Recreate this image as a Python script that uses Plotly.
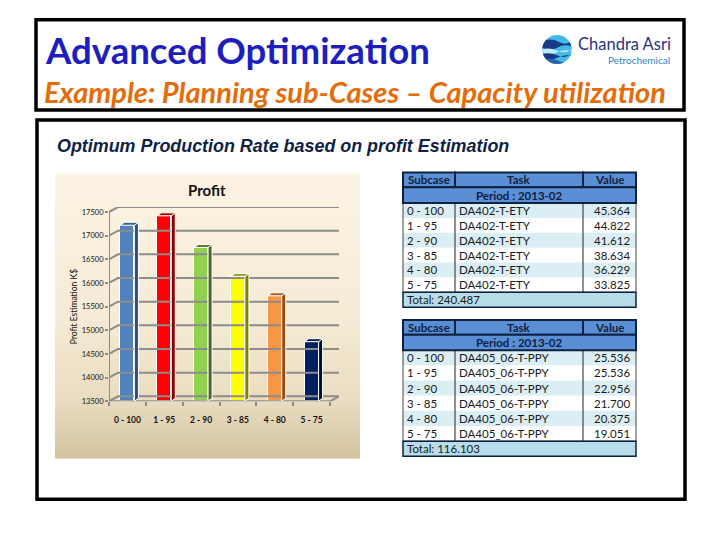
import base64
import plotly.graph_objects as go

W, H = 720, 540


def fx(p):
    return p / W


def fy(p):
    return 1 - p / H


# ---------------- data ----------------
categories = ["0 - 100", "1 - 95", "2 - 90", "3 - 85", "4 - 80", "5 - 75"]
profit = [17220, 17420, 16750, 16140, 15730, 14760]
y_ticks = [13500, 14000, 14500, 15000, 15500, 16000, 16500, 17000, 17500]

table_headers = ["Subcase", "Task", "Value"]
period_label = "Period : 2013-02"
subcases = ["0 - 100", "1 - 95", "2 - 90", "3 - 85", "4 - 80", "5 - 75"]
tasks_a = ["DA402-T-ETY"] * 6
values_a = [45.364, 44.822, 41.612, 38.634, 36.229, 33.825]
total_a = 240.487
tasks_b = ["DA405_06-T-PPY"] * 6
values_b = [25.536, 25.536, 22.956, 21.700, 20.375, 19.051]
total_b = 116.103

# ---------------- styles ----------------
front_colors = ["#4F81BD", "#FF0000", "#92D050", "#FFFF00", "#F79646", "#002060"]
side_colors = ["#2C4D75", "#8B0000", "#4F6228", "#7F7F00", "#984807", "#00102E"]
top_colors = ["#3A5F8E", "#A50000", "#5E7A2E", "#99992A", "#A65A1E", "#0A1E4A"]
GRID = "#8C8C8C"

# 3D geometry (pixel based, converted to data units)
CAT_PX = 221 / 6.0
PX_PER_UNIT = 191 / 4000.0
DX = 9 / CAT_PX
DY = 5 / PX_PER_UNIT
BW = 0.38
BDX = 4 / CAT_PX
BDY = 3 / PX_PER_UNIT
Y0 = y_ticks[0]
Y1 = y_ticks[-1]

fig = go.Figure()

# background panel with vertical gradient
fig.add_trace(go.Scatter(
    x=[0, 1, 1, 0, 0], y=[0, 0, 1, 1, 0], mode="lines", fill="toself",
    line=dict(width=0, color="rgba(0,0,0,0)"),
    fillgradient=dict(type="vertical", colorscale=[
        [0, "#D3C29E"], [0.2, "#E9DCC0"], [0.5, "#F6EBD5"], [1, "#FCF3E3"]]),
    hoverinfo="skip", xaxis="x", yaxis="y"))

# back wall gridlines (3D)
for t in y_ticks:
    fig.add_trace(go.Scatter(
        x=[-0.5, -0.5 + DX, len(categories) - 0.5 + DX], y=[t, t + DY, t + DY],
        mode="lines", line=dict(color=GRID, width=2), hoverinfo="skip",
        xaxis="x2", yaxis="y2"))
# front vertical axis and floor edges
fig.add_trace(go.Scatter(x=[-0.5, -0.5], y=[Y0, Y1], mode="lines",
                         line=dict(color=GRID, width=2), hoverinfo="skip",
                         xaxis="x2", yaxis="y2"))
fig.add_trace(go.Scatter(
    x=[-0.5, len(categories) - 0.5, len(categories) - 0.5 + DX],
    y=[Y0, Y0, Y0 + DY], mode="lines",
    line=dict(color=GRID, width=2), hoverinfo="skip", xaxis="x2", yaxis="y2"))

# bar side & top faces
for i, v in enumerate(profit):
    xr = i + BW / 2
    xl = i - BW / 2
    fig.add_trace(go.Scatter(
        x=[xr, xr + BDX, xr + BDX, xr, xr], y=[Y0, Y0 + BDY, v + BDY, v, Y0],
        mode="lines", fill="toself", fillcolor=side_colors[i],
        line=dict(color="white", width=1), hoverinfo="skip",
        xaxis="x2", yaxis="y2"))
    fig.add_trace(go.Scatter(
        x=[xl, xl + BDX, xr + BDX, xr, xl], y=[v, v + BDY, v + BDY, v, v],
        mode="lines", fill="toself", fillcolor=top_colors[i],
        line=dict(color="white", width=1), hoverinfo="skip",
        xaxis="x2", yaxis="y2"))

# front faces
fig.add_trace(go.Bar(
    x=list(range(len(categories))), y=[v - Y0 for v in profit], base=Y0,
    width=BW, marker=dict(color=front_colors, line=dict(color="white", width=1)),
    hoverinfo="skip", xaxis="x2", yaxis="y2"))

shapes = []
annotations = []


def rect(x0, y0, x1, y1, fill=None, line=None, lw=0):
    shapes.append(dict(
        type="rect", xref="paper", yref="paper",
        x0=fx(x0), x1=fx(x1), y0=fy(y1), y1=fy(y0),
        fillcolor=fill if fill else "rgba(0,0,0,0)",
        line=dict(color=line if line else "rgba(0,0,0,0)", width=lw),
        layer="above"))


def vline(x, y0, y1, color, lw):
    shapes.append(dict(type="line", xref="paper", yref="paper",
                       x0=fx(x), x1=fx(x), y0=fy(y0), y1=fy(y1),
                       line=dict(color=color, width=lw), layer="above"))


def text(s, x, y, size, color="black", family="Lato", weight="normal",
         style="normal", xanchor="left", angle=0):
    annotations.append(dict(
        text=s, x=fx(x), y=fy(y), xref="paper", yref="paper",
        xanchor=xanchor, yanchor="middle", showarrow=False, textangle=angle,
        font=dict(size=size, color=color, family=family, weight=weight,
                  style=style)))


# slide frames
rect(36, 20, 684, 111, line="black", lw=3.5)
rect(37, 121, 685, 504, line="black", lw=3.5)

# titles
text("Advanced Optimization", 43, 50, 36.6, color="#1E1EBE", weight="bold")
text("Example: Planning sub-Cases \u2013 Capacity utilization", 42, 92, 29,
     color="#E46C0A", weight="bold", style="italic")
text("Optimum Production Rate based on profit Estimation", 55, 147, 17.9,
     color="#0F1F45", family="Liberation Sans", weight="bold", style="italic")

# logo
logo_svg = (
    "<svg xmlns='http://www.w3.org/2000/svg' viewBox='0 0 100 100'>"
    "<defs><clipPath id='c'><circle cx='50' cy='50' r='49'/></clipPath></defs>"
    "<g clip-path='url(#c)'>"
    "<rect width='100' height='100' fill='#45B8E4'/>"
    "<path d='M0 22 Q30 10 55 24 T100 20 V40 Q75 30 50 44 T0 44 Z' fill='#1A3A86'/>"
    "<path d='M0 50 Q25 42 50 54 T100 50 V56 Q75 48 50 60 T0 58 Z' fill='#BFEAF7'/>"
    "<path d='M0 66 Q25 58 52 70 T100 64 V72 Q75 64 50 78 T0 74 Z' fill='#1A3A86'/>"
    "<path d='M0 84 Q30 76 55 88 T100 84 V100 H0 Z' fill='#2B62A8'/>"
    "</g></svg>")
fig.add_layout_image(dict(
    source="data:image/svg+xml;base64," + base64.b64encode(logo_svg.encode()).decode(),
    xref="paper", yref="paper", x=fx(542), y=fy(35), sizex=30 / W, sizey=30 / H,
    xanchor="left", yanchor="top", sizing="stretch", layer="above"))
text("Chandra Asri", 576, 44, 16.5, color="#27357F")
text("Petrochemical", 606, 61, 10, color="#2C86C2")

# chart texts
text("Profit", 207, 192, 15, color="#111111", weight="bold", xanchor="center")
text("Profit Estimation K$", 74, 310, 8.5, color="#111111", xanchor="center",
     angle=-90)

# tables
HDR = "#5A8FD6"
NAVY = "#0F2040"
LIGHT = "#DAEEF3"
TOT = "#B7DDE8"
COLS = [403, 455, 583, 636]


def draw_table(top, hdr_h, per_h, row_h, tasks, values, total):
    y1 = top + hdr_h
    y2 = y1 + per_h
    for r in range(len(subcases)):
        ry = y2 + r * row_h
        rect(COLS[0], ry, COLS[3], ry + row_h,
             fill=LIGHT if r % 2 == 0 else "white")
        text(subcases[r], COLS[0] + 2, ry + row_h / 2, 11.5, color="#1a1a1a")
        text(tasks[r], COLS[1] + 2, ry + row_h / 2, 11.5, color="#1a1a1a")
        text(f"{values[r]:.3f}", COLS[3] - 4, ry + row_h / 2, 11.5,
             color="#1a1a1a", xanchor="right")
    yb = y2 + len(subcases) * row_h
    vline(COLS[1], y2, yb, "#222222", 1)
    vline(COLS[2], y2, yb, "#222222", 1)
    rect(COLS[0], y2, COLS[3], yb, line="#444444", lw=1)
    for i, name in enumerate(table_headers):
        rect(COLS[i], top, COLS[i + 1], y1, fill=HDR, line=NAVY, lw=2)
        text(name, (COLS[i] + COLS[i + 1]) / 2, (top + y1) / 2, 11.5,
             color=NAVY, weight="bold", xanchor="center")
    rect(COLS[0], y1, COLS[3], y2, fill=HDR, line=NAVY, lw=2)
    text(period_label, (COLS[0] + COLS[3]) / 2, (y1 + y2) / 2, 11.5,
         color=NAVY, weight="bold", xanchor="center")
    rect(COLS[0], yb, COLS[3], yb + row_h, fill=TOT, line=NAVY, lw=1.5)
    text(f"Total: {total:.3f}", COLS[0] + 2, yb + row_h / 2, 11.5,
         color="#1a1a1a")


draw_table(174, 15, 16, 15, tasks_a, values_a, total_a)
draw_table(323, 15, 15.5, 15.3, tasks_b, values_b, total_b)

fig.update_layout(
    width=W, height=H, autosize=False,
    margin=dict(l=0, r=0, t=0, b=0),
    paper_bgcolor="white", plot_bgcolor="rgba(0,0,0,0)",
    showlegend=False, bargap=0,
    shapes=shapes, annotations=annotations,
    xaxis=dict(domain=[fx(55), fx(360)], range=[0, 1], visible=False,
               fixedrange=True),
    yaxis=dict(domain=[fy(463), fy(175)], range=[0, 1], visible=False,
               fixedrange=True),
    xaxis2=dict(anchor="y2", domain=[fx(109), fx(109 + 221 + 9)],
                range=[-0.5, len(categories) - 0.5 + DX],
                tickmode="array", tickvals=list(range(len(categories))),
                ticktext=categories, ticks="", showgrid=False,
                zeroline=False, showline=False, ticklabelstandoff=12,
                tickfont=dict(family="Lato", size=8.5, color="#111111",
                              weight="bold"),
                minor=dict(tickmode="array",
                           tickvals=[i - 0.5 for i in range(len(categories) + 1)],
                           ticks="outside", ticklen=4, tickwidth=2,
                           tickcolor=GRID),
                fixedrange=True),
    yaxis2=dict(anchor="x2", domain=[fy(405), fy(209)],
                range=[Y0, Y1 + DY], tickmode="array", tickvals=y_ticks,
                ticktext=[str(t) for t in y_ticks], ticks="outside",
                ticklen=3, tickwidth=1.5, tickcolor=GRID, showgrid=False,
                zeroline=False, showline=False,
                tickfont=dict(family="Lato", size=7.5, color="#111111"),
                fixedrange=True),
)

fig.write_html("out.html")
